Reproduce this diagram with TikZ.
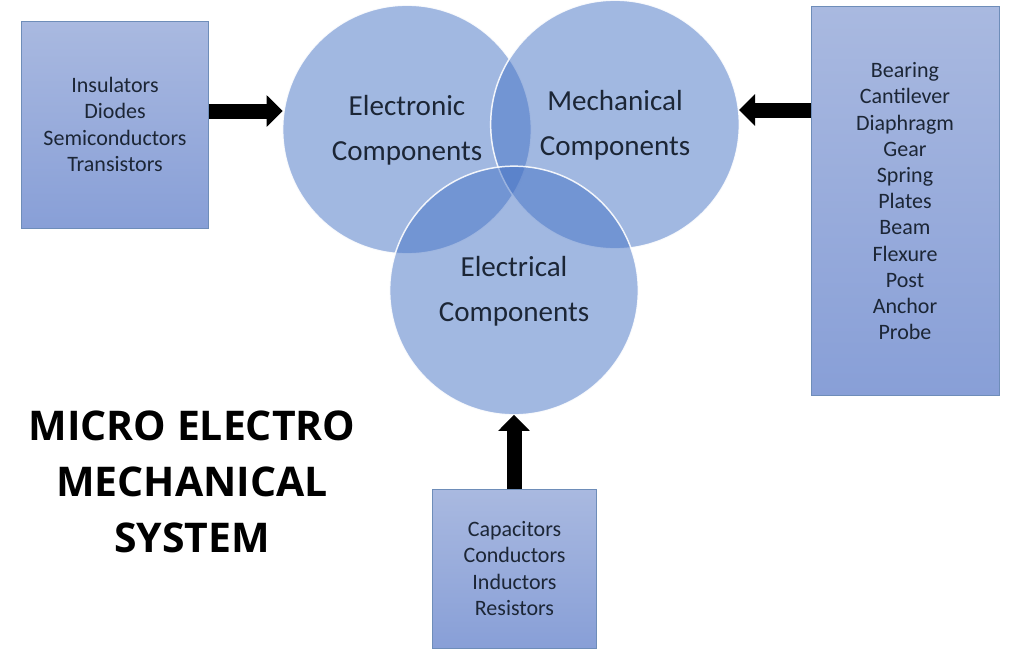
\documentclass[tikz,border=0pt]{standalone}
\usepackage{fontspec}
\setmainfont{Carlito}
\newfontfamily\titlefont{Open Sans}
\usetikzlibrary{arrows.meta}
\definecolor{vennblue}{HTML}{4472C4}
\definecolor{boxtop}{HTML}{A9B9E0}
\definecolor{boxbot}{HTML}{889FD7}
\definecolor{boxline}{HTML}{6E8DB9}
\definecolor{inktext}{HTML}{1C2636}
\newcommand\vennstrut{\rule{0pt}{16.6pt}}
\newcommand\liststrut{\rule{0pt}{12.5pt}}
\tikzset{
  x=0.75pt,y=-0.75pt,
  venn/.style={circle,inner sep=0pt,outer sep=0pt,minimum size=186.5pt,fill=vennblue,fill opacity=0.5,draw=white,draw opacity=0.9,line width=1.1pt,text opacity=1,text=inktext,align=center,font=\fontsize{21.8}{33.75}\selectfont},
  listbox/.style={rectangle,inner sep=0pt,outer sep=0pt,top color=boxtop,bottom color=boxbot,draw=boxline,line width=0.75pt,text=inktext,align=center,font=\fontsize{16.5}{19.65}\selectfont},
  fatarrow/.style={line width=11.25pt,black,-{Triangle[length=12pt,width=23pt]}},
  titletext/.style={inner sep=0pt,align=center,text=black,font=\titlefont\bfseries\fontsize{30.7}{42}\selectfont}
}
\begin{document}
\begin{tikzpicture}
\useasboundingbox (0,0) rectangle (1024,653);
\node[venn] (electronic) at (407,129.5) {\vennstrut Electronic\\Components};
\node[venn] (mechanical) at (615,124.5) {\vennstrut Mechanical\\Components};
\node[venn] (electrical) at (514,290.5) {\vennstrut Electrical\\Components};
\node[listbox,minimum width=140.6pt,minimum height=155.25pt] (leftbox) at (115,124.5) {Insulators\\Diodes\\Semiconductors\\Transistors};
\node[listbox,minimum width=141pt,minimum height=291.75pt] (rightbox) at (905,200.5) {\liststrut Bearing\\Cantilever\\Diaphragm\\Gear\\Spring\\Plates\\Beam\\Flexure\\Post\\Anchor\\Probe};
\node[listbox,minimum width=123.4pt,minimum height=119.25pt] (bottombox) at (514.5,568.5) {Capacitors\\Conductors\\Inductors\\Resistors};
\node[titletext] (title) at (192,482) {MICRO ELECTRO\\MECHANICAL\\SYSTEM};
\coordinate (leftstart) at (leftbox.east |- 0,111);
\coordinate (lefttip) at (electronic.west |- 0,111);
\coordinate (righttip) at (739,110);
\coordinate (rightstart) at (rightbox.west |- righttip);
\coordinate (bottomstart) at (electrical.south |- bottombox.north);
\draw[fatarrow] (leftstart) -- (lefttip);
\draw[fatarrow] (rightstart) -- (righttip);
\draw[fatarrow] (bottomstart) -- (electrical.south);
\end{tikzpicture}
\end{document}
